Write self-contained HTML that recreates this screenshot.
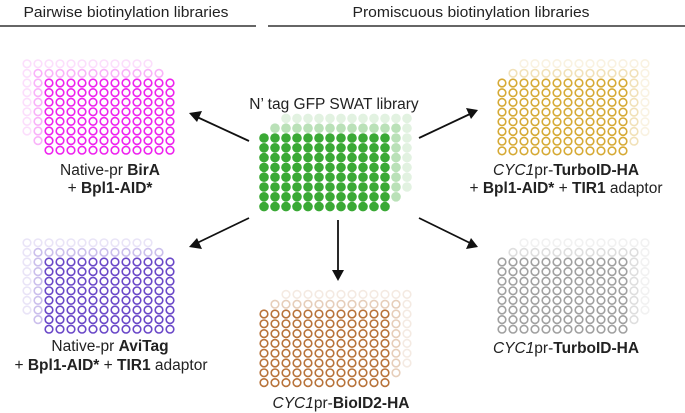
<!DOCTYPE html>
<html><head><meta charset="utf-8"><style>
html,body{margin:0;padding:0;background:#fff;}
svg{display:block;font-family:"Liberation Sans",sans-serif;}
</style></head><body>
<svg width="685" height="413" viewBox="0 0 685 413" xmlns="http://www.w3.org/2000/svg">
<!-- header -->
<text x="126" y="17" font-size="15" text-anchor="middle" fill="#222" textLength="205" lengthAdjust="spacingAndGlyphs">Pairwise biotinylation libraries</text>
<text x="471" y="17" font-size="15" text-anchor="middle" fill="#222" textLength="237" lengthAdjust="spacingAndGlyphs">Promiscuous biotinylation libraries</text>
<line x1="0" y1="26" x2="256" y2="26" stroke="#333" stroke-width="1.6"/>
<line x1="268" y1="26" x2="685" y2="26" stroke="#333" stroke-width="1.6"/>

<g id="P"></g>

<!-- labels -->
<g font-size="15.5" fill="#222" text-anchor="middle">
<text x="334" y="109">N’ tag GFP SWAT library</text>
<text x="110" y="175">Native-pr <tspan font-weight="bold">BirA</tspan></text>
<text x="110" y="193">+ <tspan font-weight="bold">Bpl1-AID*</tspan></text>
<text x="566" y="175"><tspan font-style="italic">CYC1</tspan>pr-<tspan font-weight="bold">TurboID-HA</tspan></text>
<text x="566" y="193">+ <tspan font-weight="bold">Bpl1-AID*</tspan> + <tspan font-weight="bold">TIR1</tspan> adaptor</text>
<text x="110" y="351">Native-pr <tspan font-weight="bold">AviTag</tspan></text>
<text x="111" y="370">+ <tspan font-weight="bold">Bpl1-AID*</tspan> + <tspan font-weight="bold">TIR1</tspan> adaptor</text>
<text x="566" y="353"><tspan font-style="italic">CYC1</tspan>pr-<tspan font-weight="bold">TurboID-HA</tspan></text>
<text x="341" y="408"><tspan font-style="italic">CYC1</tspan>pr-<tspan font-weight="bold">BioID2-HA</tspan></text>
</g>

<!-- arrows -->
<g stroke="#111" stroke-width="1.8" fill="#111">
<line x1="249" y1="141" x2="197" y2="117"/><polygon points="189,113 202,111 197,122" stroke="none"/>
<line x1="249" y1="218" x2="197" y2="243"/><polygon points="189,247 197,238 202,249" stroke="none"/>
<line x1="338" y1="220" x2="338" y2="272"/><polygon points="338,281 332,270 344,270" stroke="none"/>
<line x1="419" y1="138" x2="470" y2="114"/><polygon points="478,110 471,119 466,108" stroke="none"/>
<line x1="419" y1="218" x2="470" y2="243"/><polygon points="478,247 466,249 471,238" stroke="none"/>
</g>
</svg>
<script>
(function(){
var ns="http://www.w3.org/2000/svg",g=document.getElementById("P");
function plate(x0,y0,dy,dx2,dy2,col,fill){
  var layers=[[2,0.15],[1,0.35],[0,1]];
  layers.forEach(function(L){
    var k=L[0],op=L[1],ox=x0+dx2*k,oy=y0+dy2*k;
    var r=document.createElementNS(ns,"rect");
    r.setAttribute("x",ox-5.5);r.setAttribute("y",oy-dy/2);
    r.setAttribute("width",11*12);r.setAttribute("height",dy*8);r.setAttribute("fill","#fff");
    if(k<2)g.appendChild(r);
    for(var i=0;i<12;i++)for(var j=0;j<8;j++){
      var c=document.createElementNS(ns,"circle");
      c.setAttribute("cx",ox+i*11);c.setAttribute("cy",oy+j*dy);
      if(fill){c.setAttribute("r",4.8);c.setAttribute("fill",col);}
      else{c.setAttribute("r",3.8);c.setAttribute("fill","none");c.setAttribute("stroke",col);c.setAttribute("stroke-width",1.6);}
      c.setAttribute("opacity",op);g.appendChild(c);
    }
  });
}
plate(49,83,9.6,-11,-9.6,"#ee22ee",false);
plate(49,262,9.6,-11,-9.6,"#6a48c8",false);
plate(264,138,9.8,11,-9.8,"#3aa935",true);
plate(502,83,9.7,11,-9.7,"#d6aa35",false);
plate(502,262,9.6,11,-9.6,"#a0a0a0",false);
plate(264,314,9.8,11,-9.8,"#b8733a",false);
})();
</script>
</body></html>
